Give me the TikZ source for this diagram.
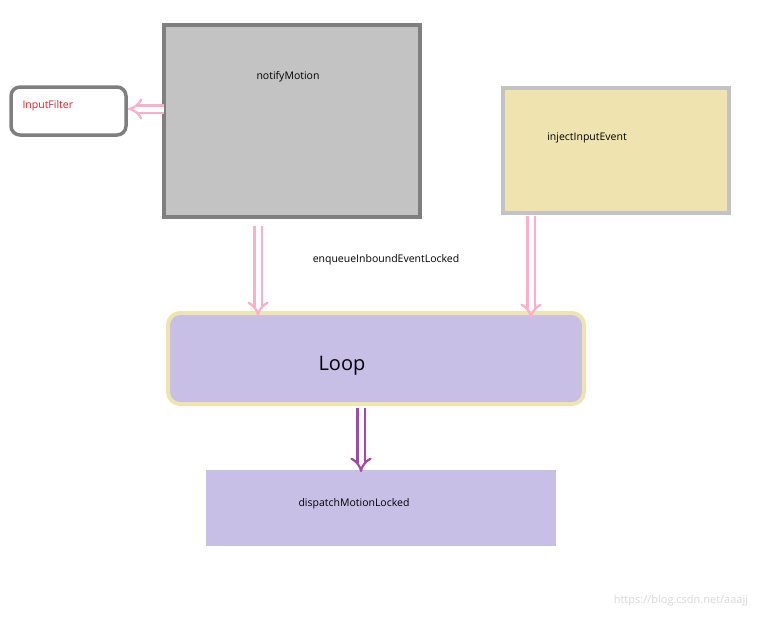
\documentclass[tikz,border=0pt]{standalone}
\usepackage{fontspec}
\setmainfont{Open Sans}
\usetikzlibrary{arrows.meta}
\definecolor{gbox}{HTML}{C3C3C3}
\definecolor{gline}{HTML}{7F7F7F}
\definecolor{ybox}{HTML}{EFE4B0}
\definecolor{lav}{HTML}{C8BFE7}
\definecolor{pk}{HTML}{FFAEC9}
\definecolor{pur}{HTML}{A349A4}
\definecolor{redt}{HTML}{ED1C24}
\begin{document}
\begin{tikzpicture}[x=1pt,y=-1pt,
  lbl/.style={font=\fontsize{10.5}{12}\selectfont},
  hol/.style={line width=2.2pt,double=white,double distance=5pt,-{Implies[length=14pt,width=22pt]}}]
\useasboundingbox (0,0) rectangle (780,619);
\fill[white] (0,0) rectangle (780,619);
\draw[gline,line width=4pt,fill=gbox] (164,25) rectangle (420,217);
\coordinate (nmL) at (164,109);
\coordinate (nmB) at (258,226);
\node[lbl] (nm) at (288,77) {notifyMotion};
\draw[gline,line width=3.5pt,fill=white,rounded corners=9pt] (11,87) rectangle (126,135);
\node[lbl,text=redt,anchor=west] (ifl) at (19,106) {InputFilter};
\coordinate (ifR) at (128,109);
\draw[gbox,line width=4pt,fill=ybox] (503,88) rectangle (729,213);
\node[lbl] (inj) at (587,138) {injectInputEvent};
\coordinate (injB) at (531,216);
\draw[ybox,line width=4pt,fill=lav,rounded corners=12pt] (168,313) rectangle (584,404);
\node[font=\fontsize{20}{24}\selectfont] (loop) at (342,366) {Loop};
\coordinate (loopT1) at (258,316);
\coordinate (loopT2) at (531,318);
\coordinate (loopB) at (361,408);
\fill[lav] (206,470) rectangle (556,546);
\node[lbl] (dm) at (354,504) {dispatchMotionLocked};
\coordinate (dmT) at (361,472);
\node[lbl] (enq) at (386,260) {enqueueInboundEventLocked};
\draw[pk,hol] (nmL) -- (ifR);
\draw[pk,hol] (nmB) -- (loopT1);
\draw[pk,hol] (injB) -- (loopT2);
\draw[pur,hol] (loopB) -- (dmT);
\node[text=black!15,font=\fontsize{11}{13}\selectfont] (wm) at (681,601) {https://blog.csdn.net/aaajj};
\end{tikzpicture}
\end{document}
